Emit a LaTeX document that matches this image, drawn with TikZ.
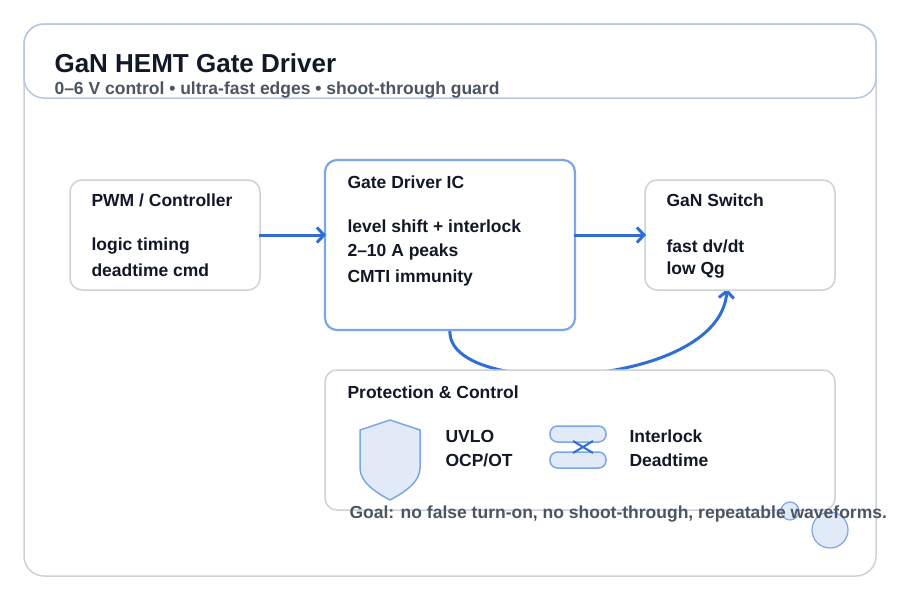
\documentclass[tikz,border=0pt]{standalone}
\usepackage{fontspec}
\setmainfont{Liberation Sans}
\usetikzlibrary{arrows.meta}
\definecolor{frame}{HTML}{CDD1D8}
\definecolor{headline}{HTML}{B4C8E4}
\definecolor{accent}{HTML}{2F6FD4}
\definecolor{iclines}{HTML}{7BA7E6}
\definecolor{paleblue}{HTML}{E1EAF6}
\definecolor{ink}{HTML}{111827}
\definecolor{muted}{HTML}{4B5563}
\tikzset{card/.style = {draw=frame, line width=1.5pt, fill=white, rounded corners=12pt},
         lbl/.style = {anchor=west, text=ink, font=\bfseries\fontsize{17.5}{20}\selectfont},
         link/.style = {draw=accent, line width=3pt, -{Straight Barb[length=7pt,width=15pt]}}}
\begin{document}
\begin{tikzpicture}[x=1pt,y=-1pt]
  \useasboundingbox (0,0) rectangle (900,600);
  \fill[white] (0,0) rectangle (900,600);
  \draw[frame, line width=1.5pt, fill=white, rounded corners=20pt] (24,24) rectangle (876,576);
  \draw[headline, line width=1.5pt, rounded corners=20pt] (24,24) rectangle (876,98);
  \node[anchor=west, text=ink, font=\bfseries\fontsize{26}{30}\selectfont] (title) at (51,63) {GaN HEMT Gate Driver};
  \node[anchor=west, text=muted, font=\bfseries\fontsize{17.5}{20}\selectfont] (subtitle) at (51,90) {0–6 V control • ultra-fast edges • shoot-through guard};
  % feedback curve, partly hidden by the protection card
  \coordinate (fbstart) at (450,330);
  \coordinate (fbend) at (727,289);
  \draw[link] (fbstart) .. controls (445,400) and (720,390) .. (fbend);
  % cards
  \draw[card] (70,180) rectangle (260,290);
  \draw[card, draw=iclines, line width=2.2pt] (325,160) rectangle (575,330);
  \draw[card] (645,180) rectangle (835,290);
  \draw[card] (325,370) rectangle (835,510);
  \coordinate (pwmE) at (259,235);
  \coordinate (icW) at (326,235);
  \coordinate (icE) at (574,235);
  \coordinate (ganW) at (646,235);
  \draw[link] (pwmE) -- (icW);
  \draw[link] (icE) -- (ganW);
  % texts
  \node[lbl] (pwm) at (88,200) {PWM / Controller};
  \node[lbl] (pwm1) at (88,246) {logic timing};
  \node[lbl] (pwm2) at (88,270) {deadtime cmd};
  \node[lbl] (ic) at (344,182) {Gate Driver IC};
  \node[lbl] (ic1) at (344,226) {level shift + interlock};
  \node[lbl] (ic2) at (344,252) {2–10 A peaks};
  \node[lbl] (ic3) at (344,278) {CMTI immunity};
  \node[lbl] (gan) at (663,200) {GaN Switch};
  \node[lbl] (gan1) at (663,246) {fast dv/dt};
  \node[lbl] (gan2) at (663,270) {low Qg};
  \node[lbl] (prot) at (344,392) {Protection \& Control};
  \node[lbl] (uvlo) at (442,436) {UVLO};
  \node[lbl] (ocp) at (442,460) {OCP/OT};
  \node[lbl] (ilk) at (626,436) {Interlock};
  \node[lbl] (dt) at (626,460) {Deadtime};
  % shield
  \draw[iclines, fill=paleblue, line width=1.5pt] (390,420) -- (420,430) -- (420,468)
     .. controls (420,482) and (405,492) .. (390,500)
     .. controls (375,492) and (360,482) .. (360,468) -- (360,430) -- cycle;
  % interlock pills
  \draw[iclines, fill=paleblue, line width=1.5pt, rounded corners=7.5pt] (550,426) rectangle (606,442);
  \draw[iclines, fill=paleblue, line width=1.5pt, rounded corners=7.5pt] (550,452) rectangle (606,468);
  \draw[accent, line width=2pt] (573,441) -- (593,453) (573,453) -- (593,441);
  % decoration
  \draw[iclines, fill=paleblue, line width=1.2pt] (790,511) circle (9);
  \draw[iclines, fill=paleblue, line width=1.2pt] (830,530) circle (18);
  \node[anchor=west, text=muted, font=\bfseries\fontsize{17.5}{20}\selectfont] (goal) at (346,514) {Goal: no false turn-on, no shoot-through, repeatable waveforms.};
\end{tikzpicture}
\end{document}
